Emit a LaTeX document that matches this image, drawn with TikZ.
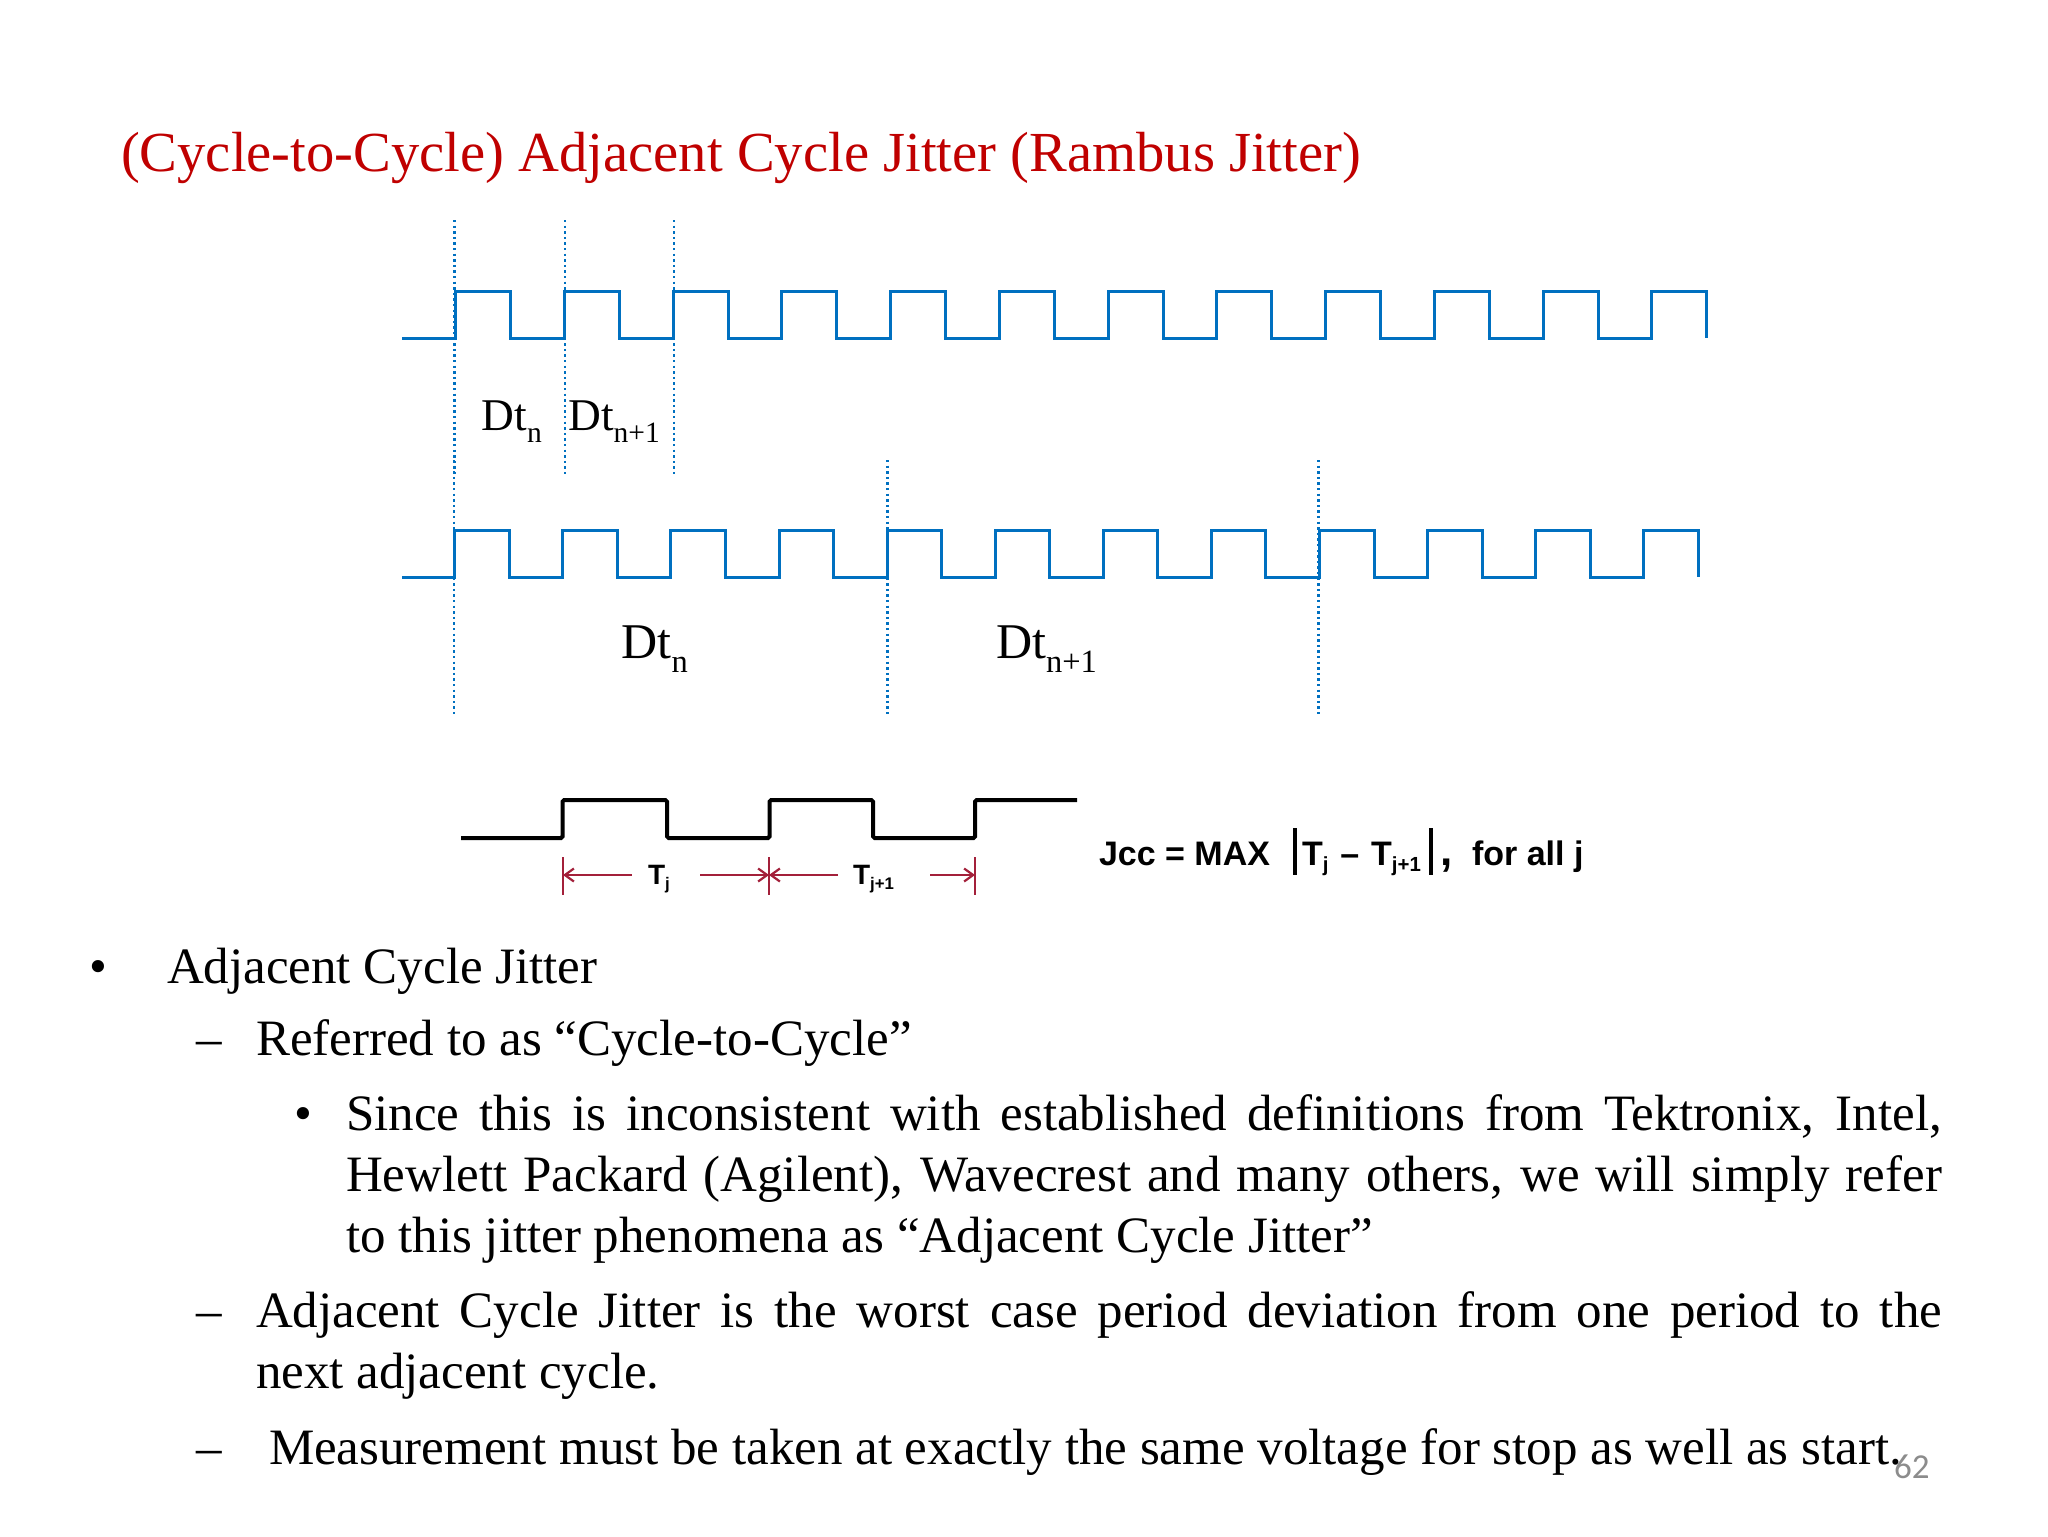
\documentclass[tikz,border=0pt]{standalone}
\usepackage{fontspec}
\usepackage{graphicx}
\setmainfont{Liberation Serif}
\newfontfamily\arialf{Liberation Sans}
\newfontfamily\calibrif{Carlito}
\usetikzlibrary{arrows.meta}
\definecolor{wblue}{HTML}{0070C0}
\definecolor{tred}{HTML}{C00000}
\definecolor{ared}{HTML}{A3203A}
\definecolor{pgray}{HTML}{8C8C8C}
\newcommand{\lsub}[1]{\raisebox{-0.28em}{\scalebox{0.65}{#1}}}
\newcommand{\asub}[1]{\raisebox{-0.18em}{\scalebox{0.6}{#1}}}
\newcommand{\bodyfont}{\fontsize{25.5pt}{30pt}\selectfont}
\begin{document}
\begin{tikzpicture}[x=0.5pt,y=-0.5pt,
  txt/.style={inner sep=0pt,outer sep=0pt,anchor=base west},
  body/.style={txt,font=\bodyfont},
  wave/.style={wblue,line width=1.5pt,line join=miter},
  bwave/.style={black,line width=2pt,rounded corners=0.8pt},
  dotline/.style={wblue,line width=1.3pt,dash pattern=on 1.2pt off 1.6pt},
  tick/.style={ared,line width=1.3pt},
  marr/.style={ared,line width=1.1pt,-{Straight Barb[length=4.5pt,width=6.5pt]}},
  dtsmall/.style={txt,font=\fontsize{22.7pt}{26pt}\selectfont},
  dtlarge/.style={txt,font=\fontsize{25pt}{29pt}\selectfont},
  arialb/.style={txt,font=\arialf\bfseries\fontsize{17pt}{20pt}\selectfont},
  arials/.style={txt,font=\arialf\bfseries\fontsize{14pt}{16pt}\selectfont}]
\useasboundingbox[fill=white] (0,0) rectangle (2048,1536);

% title
\node[txt,text=tred,font=\fontsize{28.3pt}{33pt}\selectfont] (title) at (121,171.7)
  {(Cycle-to-Cycle) Adjacent Cycle Jitter (Rambus Jitter)};

% dotted markers
\draw[dotline] (454.5,220) -- (454.5,475);
\draw[dotline] (565,220) -- (565,475);
\draw[dotline] (674,220) -- (674,475);
\draw[dotline] (453.8,460) -- (453.8,715);
\draw[dotline] (887.5,460) -- (887.5,715);
\draw[dotline] (1318.5,460) -- (1318.5,715);

% top waveform
\draw[wave] (402,338) foreach \ii in {0,...,11} { -- ({455.7+\ii*108.75},338) -- ++(0,-47) -- ++(55,0) -- ++(0,47) };
% bottom waveform
\draw[wave] (402,577) foreach \ii in {0,...,11} { -- ({454.7+\ii*108.1},577) -- ++(0,-47) -- ++(54.5,0) -- ++(0,47) };

% Dt labels
\node[dtsmall] (dta) at (481.7,430) {Dt\lsub{n}};
\node[dtsmall] (dtb) at (568.3,430) {Dt\lsub{n+1}};
\node[dtlarge] (dtc) at (621.7,658.3) {Dt\lsub{n}};
\node[dtlarge] (dtd) at (996,658.3) {Dt\lsub{n+1}};

% black waveform
\draw[bwave] (461,838) -- (562.5,838) -- (562.5,800) -- (667,800) -- (667,838) -- (769.5,838)
  -- (769.5,800) -- (873,800) -- (873,838) -- (975,838) -- (975,800) -- (1077,800);

% red period markers
\coordinate (k1t) at (563,857); \coordinate (k1b) at (563,895);
\coordinate (k2t) at (769,857); \coordinate (k2b) at (769,895);
\coordinate (k3t) at (975,857); \coordinate (k3b) at (975,895);
\draw[tick] (k1t) -- (k1b);
\draw[tick] (k2t) -- (k2b);
\draw[tick] (k3t) -- (k3b);
\coordinate (k1m) at (563,875); \coordinate (k2m) at (769,875); \coordinate (k3m) at (975,875);
\coordinate (a1) at (631.7,875); \coordinate (a2) at (700,875);
\coordinate (a3) at (838,875); \coordinate (a4) at (930,875);
\draw[marr] (a1) -- (k1m);
\draw[marr] (a2) -- (k2m);
\draw[marr] (a3) -- (k2m);
\draw[marr] (a4) -- (k3m);
\node[arials] (tj) at (648,884) {T\asub{j}};
\node[arials] (tj1) at (853,884) {T\asub{j+1}};

% formula
\node[arialb] (jcc) at (1099,865) {Jcc = MAX};
\node[arialb] (diff) at (1302,865) {T\asub{j}\hspace{0.35em}–\hspace{0.35em}T\asub{j+1}};
\coordinate (bar1t) at (1295,828); \coordinate (bar1b) at (1295,875);
\coordinate (bar2t) at (1431,828); \coordinate (bar2b) at (1431,875);
\draw[black,line width=1.7pt] (bar1t) -- (bar1b);
\draw[black,line width=1.7pt] (bar2t) -- (bar2b);
\node[txt,font=\arialf\bfseries\fontsize{22pt}{24pt}\selectfont] (comma) at (1440,865) {,};
\node[arialb] (forall) at (1472,865) {for all j};

% bullet text
\node[body] (b1) at (89,983) {•};
\node[body] (t1) at (167,983) {Adjacent Cycle Jitter};
\node[body] (d1) at (196,1055) {–};
\node[body] (t2) at (256,1055) {Referred to as “Cycle-to-Cycle”};
\node[body] (b2) at (294,1130) {•};
\node[body] (t3a) at (346,1130) {\makebox[798pt][s]{Since this is inconsistent with established definitions from Tektronix, Intel,}};
\node[body] (t3b) at (346,1191) {\makebox[798pt][s]{Hewlett Packard (Agilent), Wavecrest and many others, we will simply refer}};
\node[body] (t3c) at (346,1252) {to this jitter phenomena as “Adjacent Cycle Jitter”};
\node[body] (d2) at (196,1327) {–};
\node[body] (t4a) at (256,1327) {\makebox[843pt][s]{Adjacent Cycle Jitter is the worst case period deviation from one period to the}};
\node[body] (t4b) at (256,1388) {next adjacent cycle.};
\node[body] (d3) at (196,1464) {–};
\node[body] (t5) at (269,1464) {Measurement must be taken at exactly the same voltage for stop as well as start.};
\node[txt,font=\calibrif\fontsize{17.5pt}{20pt}\selectfont,text=pgray] (pn) at (1894,1478) {62};
\end{tikzpicture}
\end{document}
